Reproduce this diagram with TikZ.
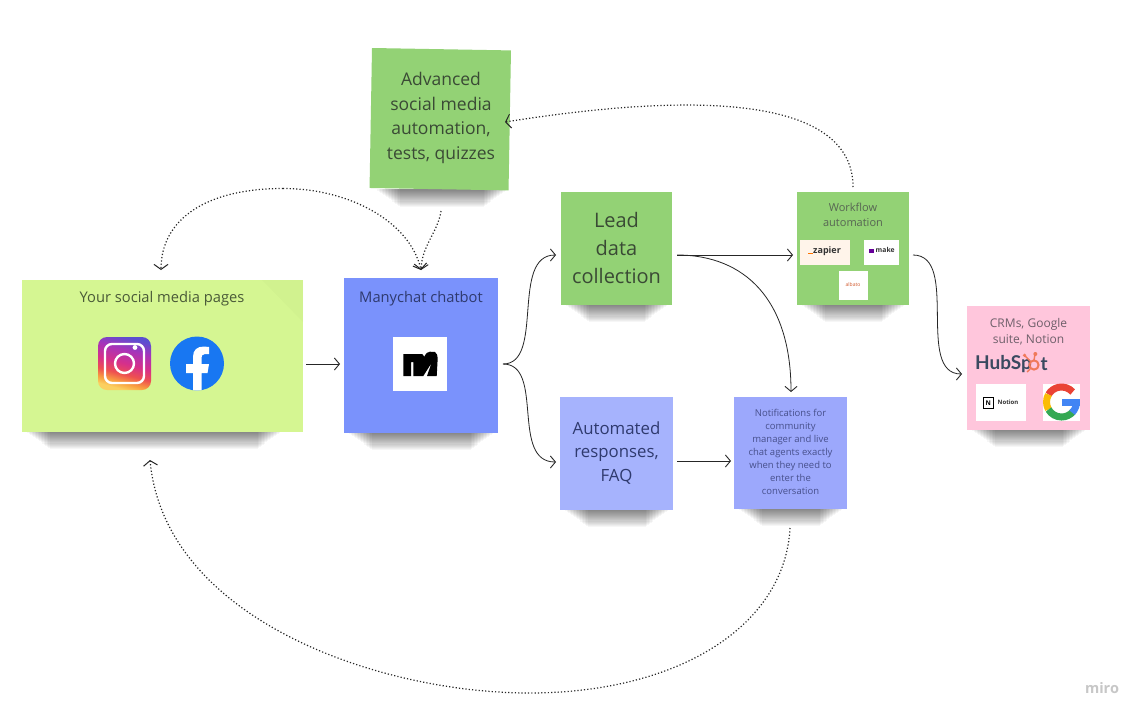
\documentclass[tikz,border=0pt]{standalone}
\usepackage{fontspec}
\setmainfont{Open Sans}
\newfontfamily\hubfont{Lato}
\usetikzlibrary{arrows.meta,calc}
\definecolor{limec}{HTML}{D5F692}
\definecolor{greenc}{HTML}{93D275}
\definecolor{bluc}{HTML}{7A92FC}
\definecolor{lbluc}{HTML}{A6B3FD}
\definecolor{nbluc}{HTML}{9CA8FC}
\definecolor{pinkc}{HTML}{FFC6DC}
\definecolor{ink}{HTML}{3A4A35}
\definecolor{inklime}{HTML}{4A5A38}
\definecolor{inkblue}{HTML}{2F3A6E}
\definecolor{inknotif}{HTML}{47508C}
\definecolor{inkpink}{HTML}{6E5F6A}
\definecolor{fbblue}{HTML}{1877F2}
\definecolor{hubink}{HTML}{3A4A60}
\definecolor{huborange}{HTML}{F0795A}
\definecolor{gred}{HTML}{EA4335}
\definecolor{gyel}{HTML}{FBBC05}
\definecolor{ggre}{HTML}{34A853}
\definecolor{gblu}{HTML}{4285F4}
\definecolor{zapbg}{HTML}{FFF4EA}
\definecolor{igA}{HTML}{FBD060}
\definecolor{igB}{HTML}{F9A040}
\definecolor{igC}{HTML}{EE5050}
\definecolor{igD}{HTML}{D6308A}
\definecolor{igE}{HTML}{A833B9}
\definecolor{igF}{HTML}{5B4FD0}
\pgfdeclareverticalshading{igshade}{100bp}{color(0bp)=(igA);color(26bp)=(igA);color(32bp)=(igB);color(40bp)=(igC);color(50bp)=(igD);color(63bp)=(igE);color(75bp)=(igF);color(100bp)=(igF)}
\tikzset{
  x=1pt,y=-1pt,
  note/.style={inner sep=0pt,outer sep=0pt,anchor=north west},
  notetext/.style={align=center,text=#1,inner sep=0pt},
  whitebox/.style={fill=white,draw=none,inner sep=0pt,outer sep=0pt,anchor=north west},
  conn/.style={draw=black!85,line width=0.8pt,-{Straight Barb[length=5pt,width=12pt,line width=0.9pt]}},
  dots/.style={draw=black!85,line width=1.2pt,dash pattern=on 1.2pt off 2.1pt,-{Straight Barb[length=5pt,width=14pt,line width=1pt]}},
}
\newcommand{\softshadow}[3]{%
  \foreach \i in {0,...,15}{
    \fill[black,opacity=0.036]
      ({#1+5+\i*1.5},{#3-1}) rectangle ({#2-5-\i*1.5},{#3+1+\i*1.05});
  }}
\begin{document}
\begin{tikzpicture}
\useasboundingbox (0,0) rectangle (1147,720);
\fill[white] (0,0) rectangle (1147,720);
% shadows
\softshadow{372}{511}{190}
\softshadow{561}{672}{305}
\softshadow{797}{909}{305}
\softshadow{22}{285}{432}
\softshadow{344}{498}{433}
\softshadow{560}{673}{510}
\softshadow{734}{847}{509}
\softshadow{967}{1090}{430}
% notes
\node[note,fill=greenc,rotate=-1,minimum width=139pt,minimum height=140pt] (adv) at (372,48) {};
\node[note,fill=greenc,minimum width=111pt,minimum height=113pt] (lead) at (561,192) {};
\node[note,fill=greenc,minimum width=112pt,minimum height=113pt] (work) at (797,192) {};
\node[note,fill=limec,minimum width=281pt,minimum height=152pt] (soc) at (22,280) {};
\node[note,fill=bluc,minimum width=154pt,minimum height=155pt] (many) at (344,278) {};
\node[note,fill=lbluc,minimum width=113pt,minimum height=113pt] (auto) at (560,397) {};
\node[note,fill=nbluc,minimum width=113pt,minimum height=112pt] (notif) at (734,397) {};
\node[note,fill=pinkc,minimum width=123pt,minimum height=124pt] (crm) at (967,306) {};
\fill[black,opacity=0.015] (262,280) -- (303,280) -- (303,322) -- cycle;
% texts
\node[notetext=ink,font=\fontsize{17.5}{24.8}\selectfont] (tadv) at (441,118) {Advanced\\social media\\automation,\\tests, quizzes};
\node[notetext=ink,font=\fontsize{20}{28}\selectfont] (tlead) at (616.5,247.5) {Lead\\data\\collection};
\node[notetext=ink!85,font=\fontsize{11}{15}\selectfont] (twork) at (853,214.5) {Workflow\\automation};
\node[notetext=inklime,font=\fontsize{14.7}{16}\selectfont] (tsoc) at (162,298.5) {Your social media pages};
\node[notetext=inkblue,font=\fontsize{14.7}{16}\selectfont] (tmany) at (421,298.5) {Manychat chatbot};
\node[notetext=inkblue,font=\fontsize{16.8}{23.5}\selectfont] (tauto) at (616.5,453) {Automated\\responses,\\FAQ};
\node[notetext=inknotif,font=\fontsize{9.5}{13.1}\selectfont] (tnotif) at (790.5,452) {Notifications for\\community\\manager and live\\chat agents exactly\\when they need to\\enter the\\conversation};
\node[notetext=inkpink,font=\fontsize{12}{16}\selectfont] (tcrm) at (1028.5,332) {CRMs, Google\\suite, Notion};
% instagram
\shade[rounded corners=9pt,shading=igshade,shading angle=-15] (98,337) rectangle (151,390);
\draw[white,line width=2.4pt,rounded corners=7pt] (105,344) rectangle (144,383);
\draw[white,line width=2.4pt] (124.5,363.5) circle (9.5);
\fill[white] (135,347.5) circle (2.4);
% facebook
\node[circle,fill=fbblue,minimum size=54pt,inner sep=0pt] (fb) at (197,363.5) {};
\begin{scope}
\clip (197,363.5) circle (27);
\fill[white] (193,391) -- (193,373) -- (186,373) -- (186,364) -- (193,364) -- (193,357)
  .. controls (193,350) and (197,346.5) .. (204,346.5) -- (209,347) -- (209,354) -- (205,354)
  .. controls (202,354) and (201.5,356) .. (201.5,358) -- (201.5,364) -- (209,364) -- (207.5,373) -- (201.5,373) -- (201.5,391) -- cycle;
\end{scope}
% manychat logo
\node[whitebox,minimum width=54pt,minimum height=54pt] (mlogo) at (393,337) {};
\fill[black] (403.3,354) -- (422.3,354) -- (424.3,356.7) .. controls (426,353) and (428,351.7) .. (430,351.7)
  -- (435,352) .. controls (437,353) and (437.7,356) .. (437.7,358.3) -- (436.7,376) -- (427,376) -- (431.5,363)
  -- (423.3,376) -- (413.3,376) -- (413.3,362) -- (411,362) -- (411,376) -- (403.3,376) -- cycle;
% workflow logos
\node[whitebox,minimum width=50pt,minimum height=25pt,fill=zapbg] (zap) at (799.5,239.5) {};
\node[font=\fontsize{9}{10}\selectfont\bfseries,text=black!80,anchor=west,inner sep=0pt] (zapt) at (813,251.5) {zapier};
\fill[orange!90!red] (807.5,252.5) rectangle (812.5,254);
\node[whitebox,minimum width=35pt,minimum height=25pt] (mk) at (863.5,239.5) {};
\node[font=\fontsize{6.8}{8}\selectfont\bfseries,text=black!80,anchor=west,inner sep=0pt] (mkt) at (875.5,250) {make};
\fill[violet!80!blue] (868.5,248.5) rectangle (874,252.5);
\node[whitebox,minimum width=29pt,minimum height=29pt] (af) at (838.5,270.5) {};
\node[font=\fontsize{5}{6}\selectfont,text=brown!70!red,inner sep=0pt] (aft) at (853,284.5) {albato};
% hubspot
\node[font=\hubfont\fontsize{19}{20}\selectfont\bfseries,text=hubink,anchor=west,inner sep=0pt] (hub) at (975,364) {HubSp};
\draw[huborange,line width=2pt] (1034,365) circle (4.6);
\draw[huborange,line width=1.4pt] (1034,360) -- (1035,354.5) (1030,361) -- (1025,356) (1030,369) -- (1027,372);
\fill[huborange] (1035.3,354) circle (2) (1024.5,355.3) circle (1.8);
\node[font=\hubfont\fontsize{19}{20}\selectfont\bfseries,text=hubink,anchor=west,inner sep=0pt] (hubt) at (1040.5,364) {t};
% notion
\node[whitebox,minimum width=50pt,minimum height=37pt] (no) at (975.5,383.5) {};
\draw[black,line width=0.8pt,fill=white] (983,397) rectangle (993.5,408.5);
\node[font=\fontsize{6.5}{7}\selectfont\bfseries,inner sep=0pt] (non) at (988.2,403) {N};
\node[font=\fontsize{6}{7}\selectfont\bfseries,text=black!80,anchor=west,inner sep=0pt] (not) at (997.5,402) {Notion};
% google
\node[whitebox,minimum width=37pt,minimum height=37pt] (go) at (1043,383.5) {};
\begin{scope}[shift={(1061.5,402)},y=1pt]
\draw[gred,line width=7pt] (42:15) arc (42:150:15);
\draw[gyel,line width=7pt] (150:15) arc (150:210:15);
\draw[ggre,line width=7pt] (210:15) arc (210:320:15);
\draw[gblu,line width=7pt] (315:15) arc (315:365:15);
\fill[gblu] (0,3.5) rectangle (18.5,-3.5);
\end{scope}
% miro
\node[font=\fontsize{14.5}{16}\selectfont\bfseries,text=black!22,inner sep=0pt] (miro) at (1102,688) {miro};
% free ends
\coordinate (c1) at (853,187);
\coordinate (c2) at (505,122);
\coordinate (c3) at (441,211);
\coordinate (c4) at (421,270);
\coordinate (c5) at (161,270);
\coordinate (c6) at (790,528);
\coordinate (c7) at (150,460);
\coordinate (c8) at (306,364);
\coordinate (c9) at (340,364);
\coordinate (c10) at (503,364);
\coordinate (c11) at (556,255);
\coordinate (c12) at (556,462);
\coordinate (c13) at (677,255);
\coordinate (c14) at (793,255);
\coordinate (c15) at (791,392);
\coordinate (c16) at (677,461);
\coordinate (c17) at (731,461);
\coordinate (c18) at (913,255);
\coordinate (c19) at (962,374);
\coordinate (ctop) at (283,188.5);
\coordinate (cbot) at (529,693);
% connectors
\draw[dots] (c1) .. controls (853,112) and (745,84) .. (c2);
\draw[dots] (c3) .. controls (438,232) and (422,245) .. (c4);
\draw[dots] (ctop) .. controls (205,188.5) and (161,220) .. (c5);
\draw[dots] (ctop) .. controls (350,188.5) and (410,222) .. (c4);
\draw[dots] (c6) .. controls (785,625) and (680,693) .. (cbot) .. controls (380,693) and (165,620) .. (c7);
\draw[conn] (c8) -- (c9);
\draw[conn] (c10) .. controls (545,364) and (510,255) .. (c11);
\draw[conn] (c10) .. controls (545,364) and (510,462) .. (c12);
\draw[conn] (c13) -- (c14);
\draw[conn] (c13) .. controls (745,255) and (791,300) .. (c15);
\draw[conn] (c16) -- (c17);
\draw[conn] (c18) .. controls (960,255) and (915,374) .. (c19);
\end{tikzpicture}
\end{document}
